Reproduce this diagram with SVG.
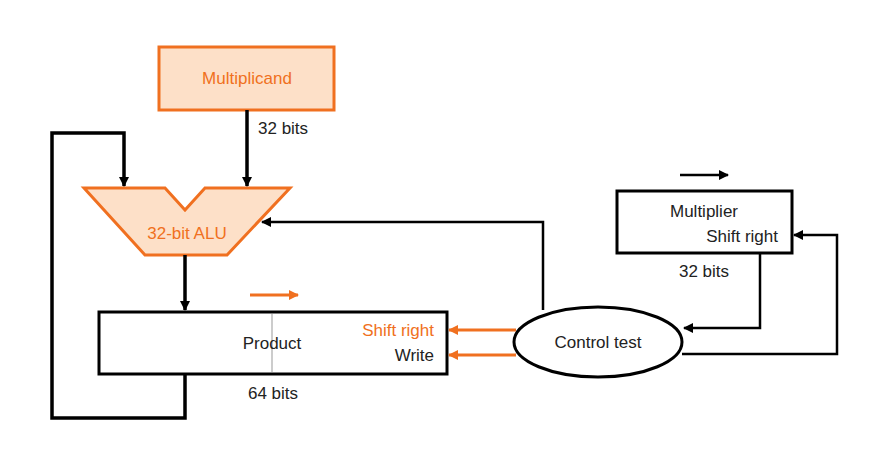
<svg xmlns="http://www.w3.org/2000/svg" width="885" height="456" viewBox="0 0 885 456">
<defs>
<marker id="ab" markerWidth="10" markerHeight="10" refX="9" refY="5" orient="auto" markerUnits="userSpaceOnUse"><path d="M0,0 L10,5 L0,10 z" fill="#000"/></marker>
<marker id="ao" markerWidth="10" markerHeight="10" refX="9" refY="5" orient="auto" markerUnits="userSpaceOnUse"><path d="M0,0 L10,5 L0,10 z" fill="#f07020"/></marker>
</defs>
<style>
text{font-family:"Liberation Sans",Arial,sans-serif;font-size:17px;fill:#222}
.o{fill:#f07020}
.k{fill:none;stroke:#000;stroke-width:3.5}
.or{fill:none;stroke:#f07020;stroke-width:3}
</style>
<rect width="885" height="456" fill="#fff"/>
<g id="multiplicand"><rect x="159" y="47" width="175" height="63" fill="#fde0c8" stroke="#f07020" stroke-width="3"/><text x="247" y="84" text-anchor="middle" class="o">Multiplicand</text></g>
<g id="alu"><polygon points="84,188 165,188 185,210 205,188 290,188 227,255 145,255" fill="#fde0c8" stroke="#f07020" stroke-width="3"/><text x="187" y="239" text-anchor="middle" class="o">32-bit ALU</text></g>
<g id="product"><rect x="99" y="312" width="348" height="62" fill="#fff" stroke="#000" stroke-width="3"/><line x1="272" y1="314" x2="272" y2="372" stroke="#ccc" stroke-width="2"/><text x="272" y="349" text-anchor="middle">Product</text><text x="434" y="336" text-anchor="end" class="o">Shift right</text><text x="434" y="361" text-anchor="end">Write</text></g>
<g id="control"><ellipse cx="598" cy="342" rx="84" ry="35" fill="#fff" stroke="#000" stroke-width="3"/><text x="598" y="348" text-anchor="middle">Control test</text></g>
<g id="multiplier"><rect x="617" y="191" width="175" height="62" fill="#fff" stroke="#000" stroke-width="3"/><text x="704" y="217" text-anchor="middle">Multiplier</text><text x="778" y="242" text-anchor="end">Shift right</text></g>
<g id="connectors">
<path class="k" d="M247,110 V186" marker-end="url(#ab)"/>
<path class="k" d="M185,375 V418 H52 V133 H124 V186" marker-end="url(#ab)"/>
<path class="k" d="M185,255 V310" marker-end="url(#ab)"/>
<path class="k" d="M543,310 V222 H262" marker-end="url(#ab)" style="stroke-width:2.5"/>
<path class="k" d="M760,253 V328 H684" marker-end="url(#ab)" style="stroke-width:2.5"/>
<path class="k" d="M682,354 H837 V235 H794" marker-end="url(#ab)" style="stroke-width:2.5"/>
<path class="or" d="M516,330 H449" marker-end="url(#ao)"/>
<path class="or" d="M516,355 H449" marker-end="url(#ao)"/>
<path class="or" d="M250,295 H298" marker-end="url(#ao)"/>
<path class="k" d="M680,175 H728" marker-end="url(#ab)" style="stroke-width:2.5"/>
</g>
<text x="258" y="134">32 bits</text>
<text x="273" y="399" text-anchor="middle">64 bits</text>
<text x="704" y="277" text-anchor="middle">32 bits</text>
</svg>
